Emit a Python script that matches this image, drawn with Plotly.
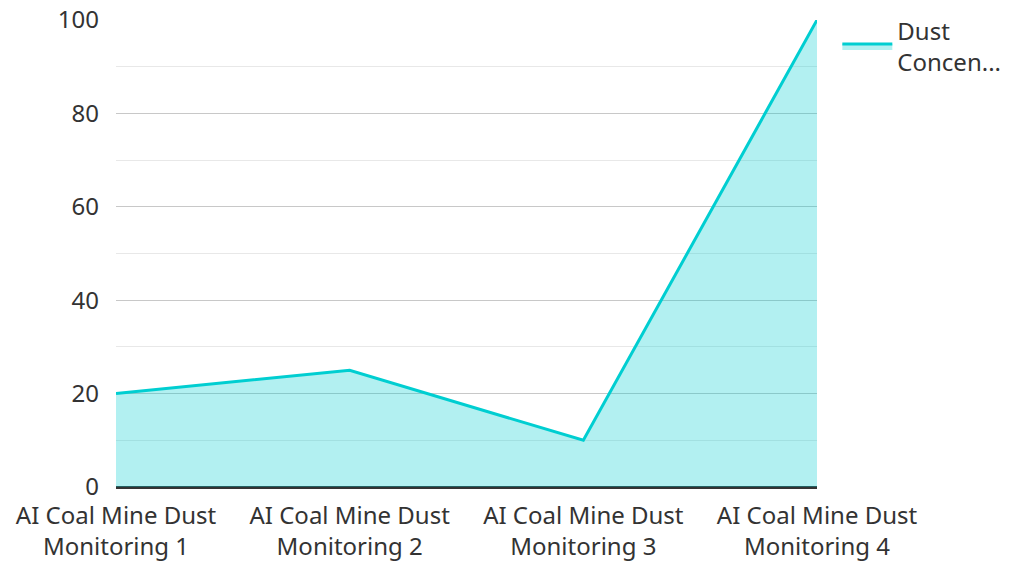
import plotly.graph_objects as go

categories = [
    "AI Coal Mine Dust<br>Monitoring 1",
    "AI Coal Mine Dust<br>Monitoring 2",
    "AI Coal Mine Dust<br>Monitoring 3",
    "AI Coal Mine Dust<br>Monitoring 4",
]
dust_values = [20, 25, 10, 100]
series_name = "Dust<br>Concen..."
y_ticks = [0, 20, 40, 60, 80, 100]

line_color = "#00CED1"
fill_color = "rgba(0,206,209,0.3)"
text_color = "#333333"
font_family = "Noto Sans"
font_size = 24

fig = go.Figure()
fig.add_trace(
    go.Scatter(
        x=categories,
        y=dust_values,
        name=series_name,
        mode="lines",
        line=dict(color=line_color, width=3),
        fill="tozeroy",
        fillcolor=fill_color,
        showlegend=True,
    )
)

fig.update_layout(
    width=1009,
    height=562,
    margin=dict(l=116, r=192, t=20, b=75, autoexpand=False),
    paper_bgcolor="white",
    plot_bgcolor="white",
    font=dict(family=font_family, size=font_size, color=text_color),
    legend=dict(
        x=1.029,
        y=1.025,
        xanchor="left",
        yanchor="top",
        itemwidth=50,
        font=dict(size=font_size, color=text_color),
        bgcolor="rgba(0,0,0,0)",
    ),
    xaxis=dict(
        type="category",
        range=[0, 3],
        automargin=False,
        showgrid=False,
        showline=False,
        zeroline=False,
        ticks="",
        ticklabelstandoff=12,
        tickfont=dict(size=font_size, color=text_color),
    ),
    yaxis=dict(
        range=[0, 100],
        tickvals=y_ticks,
        automargin=False,
        showgrid=True,
        gridcolor="#c8c8c8",
        gridwidth=1,
        zeroline=True,
        zerolinecolor="#333333",
        zerolinewidth=3,
        showline=False,
        ticks="",
        ticklabelstandoff=16,
        tickfont=dict(size=font_size, color=text_color),
        minor=dict(dtick=10, showgrid=True, gridcolor="#e8e8e8", gridwidth=1),
    ),
)

fig.write_html("out.html")
